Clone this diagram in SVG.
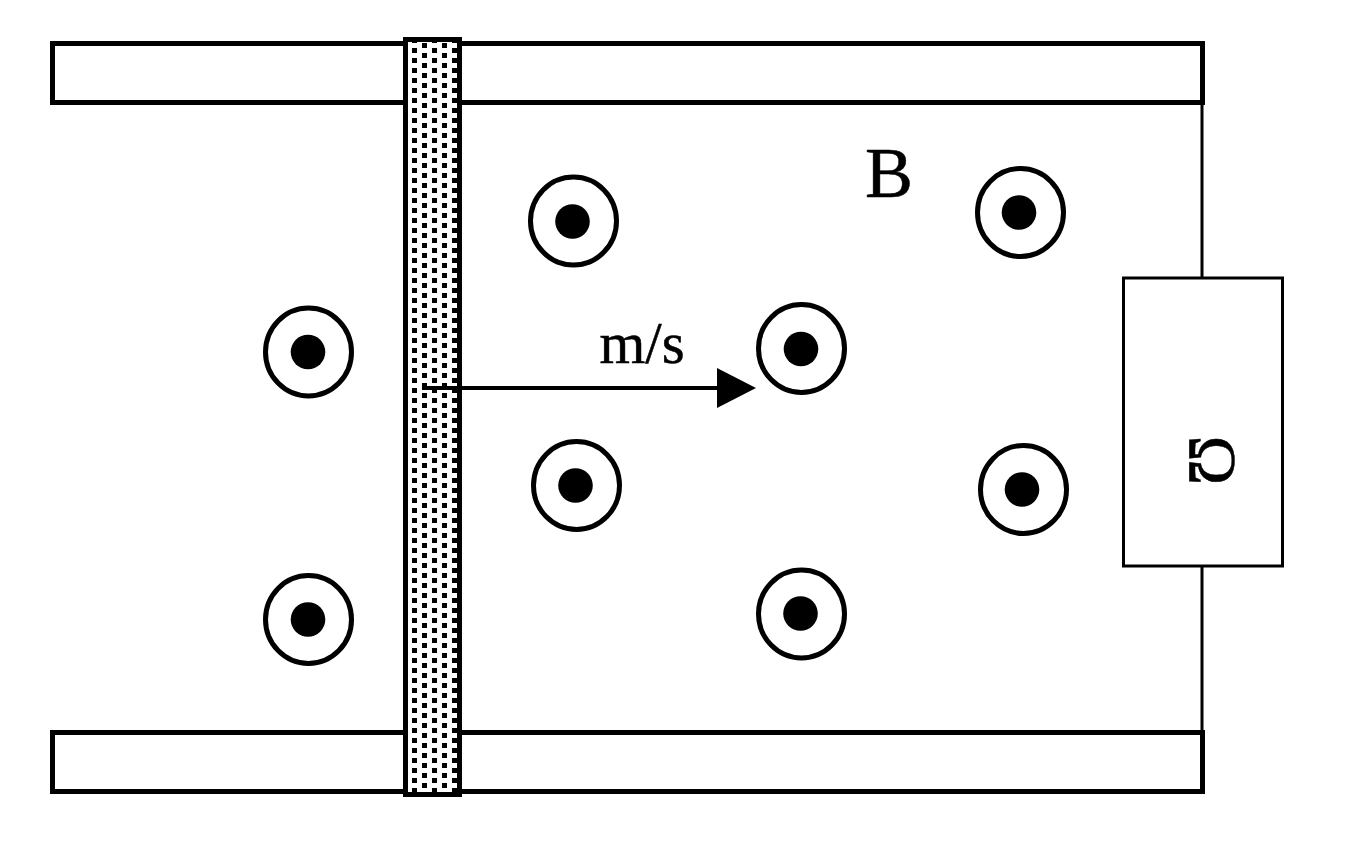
<svg xmlns="http://www.w3.org/2000/svg" width="1368" height="852" viewBox="0 0 1368 852">
<style>
.rail{fill:#fff;stroke:#000;stroke-width:5}
.wire{fill:none;stroke:#000;stroke-width:3}
.ring{fill:#fff;stroke:#000;stroke-width:5}
.t{font-family:"Liberation Serif","Times New Roman",serif;fill:#000;stroke:#000;stroke-width:0.5}
</style>
<defs>
<pattern id="dots" patternUnits="userSpaceOnUse" x="412" y="333" width="20" height="10">
<rect x="0" y="5" width="5" height="5" fill="#000"/>
<rect x="10" y="0" width="5" height="5" fill="#000"/>
</pattern>
</defs>
<rect width="1368" height="852" fill="#fff"/>
<g id="wires">
<path class="wire" d="M1202 103V278M1202 566V732"/>
</g>
<g id="rail-top"><rect class="rail" x="52.500" y="43.500" width="1150" height="59"/></g>
<g id="rail-bottom"><rect class="rail" x="52.500" y="732.500" width="1150" height="59"/></g>
<g id="rod"><rect x="405.500" y="39.500" width="54" height="755" fill="#fff"/><rect x="405.500" y="39.500" width="54" height="755" fill="url(#dots)" stroke="#000" stroke-width="5"/></g>
<g id="resistor"><rect x="1123.500" y="278" width="159" height="288" fill="#fff" stroke="#000" stroke-width="3"/>
<text class="t" font-size="67" text-anchor="middle" transform="translate(1190 460.500) rotate(90)">Ω</text></g>
<g id="velocity"><path d="M422 388H720" fill="none" stroke="#000" stroke-width="4"/><polygon points="717,368 756,388 717,408" fill="#000"/>
<text class="t" x="642" y="363" font-size="59" text-anchor="middle">m/s</text></g>
<text class="t" id="label-b" x="889" y="197" font-size="72" text-anchor="middle">B</text>
<g id="f1"><ellipse class="ring" cx="573.500" cy="221" rx="43" ry="44"/><circle cx="572.500" cy="221.500" r="17.300"/></g>
<g id="f2"><ellipse class="ring" cx="1020.500" cy="212.500" rx="43" ry="44"/><circle cx="1019" cy="212.500" r="17.300"/></g>
<g id="f3"><ellipse class="ring" cx="308.500" cy="352" rx="43" ry="44"/><circle cx="308" cy="352" r="17.300"/></g>
<g id="f4"><ellipse class="ring" cx="801.500" cy="348.500" rx="43" ry="44"/><circle cx="801" cy="349" r="17.300"/></g>
<g id="f5"><ellipse class="ring" cx="576.500" cy="485.500" rx="43" ry="44"/><circle cx="575.500" cy="485.500" r="17.300"/></g>
<g id="f6"><ellipse class="ring" cx="1023.500" cy="489.500" rx="43" ry="44"/><circle cx="1022" cy="489.500" r="17.300"/></g>
<g id="f7"><ellipse class="ring" cx="308.500" cy="619.500" rx="43" ry="44"/><circle cx="308" cy="619.500" r="17.300"/></g>
<g id="f8"><ellipse class="ring" cx="801.500" cy="614" rx="43" ry="44"/><circle cx="800.500" cy="613.500" r="17.300"/></g>
</svg>
